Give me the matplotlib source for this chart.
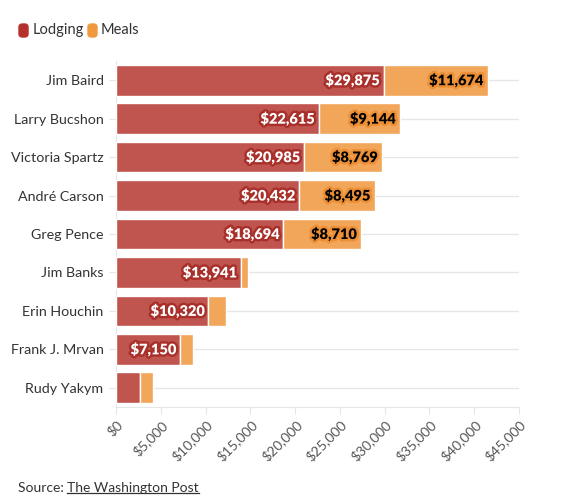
import matplotlib
matplotlib.use('Agg')
import matplotlib.pyplot as plt
import matplotlib.patheffects as pe
from matplotlib.patches import FancyBboxPatch
from matplotlib.ticker import FuncFormatter, MultipleLocator

plt.rcParams['font.family'] = ['Lato', 'DejaVu Sans']

names = ['Jim Baird', 'Larry Bucshon', 'Victoria Spartz', 'André Carson', 'Greg Pence',
         'Jim Banks', 'Erin Houchin', 'Frank J. Mrvan', 'Rudy Yakym']
lodging = [29875, 22615, 20985, 20432, 18694, 13941, 10320, 7150, 2640]
meals = [11674, 9144, 8769, 8495, 8710, 850, 1960, 1480, 1470]
show_lodging = [True, True, True, True, True, True, True, True, False]
show_meals = [True, True, True, True, True, False, False, False, False]

red = '#c0544e'
orange = '#f2a65a'
red_key = '#b7312c'
orange_key = '#f0993e'

fig = plt.figure(figsize=(5.61, 5.00), dpi=100)
ax = fig.add_axes([0.2068, 0.186, 0.7184, 0.692])

y = list(range(len(names)))
ax.barh(y, lodging, height=0.8, color=red, edgecolor='white', linewidth=1, zorder=3)
ax.barh(y, meals, left=lodging, height=0.8, color=orange, edgecolor='white', linewidth=1, zorder=3)

for i in y:
    if show_lodging[i]:
        ax.text(lodging[i] - 400, i, '${:,}'.format(lodging[i]), ha='right', va='center',
                fontsize=10.5, fontweight='heavy', color='white', zorder=5,
                path_effects=[pe.withStroke(linewidth=3.5, foreground='#a9302a')])
    if show_meals[i]:
        ax.text(lodging[i] + meals[i] - 500, i, '${:,}'.format(meals[i]), ha='right', va='center',
                fontsize=10.5, fontweight='heavy', color='black', zorder=5,
                path_effects=[pe.withStroke(linewidth=3.5, foreground='#ec8f35')])

ax.set_xlim(0, 45000)
ax.set_ylim(len(names) - 0.5, -0.5)
ax.set_yticks(y)
ax.set_yticklabels(names, fontsize=10.3, color='#333333')
ax.xaxis.set_major_locator(MultipleLocator(5000))
ax.xaxis.set_major_formatter(FuncFormatter(lambda v, p: '${:,.0f}'.format(v)))
for lab in ax.get_xticklabels():
    lab.set_rotation(45)
    lab.set_ha('right')
    lab.set_rotation_mode('anchor')
    lab.set_fontsize(10)
    lab.set_color('#555555')

ax.grid(axis='y', color='#e6e6e6', linewidth=1, zorder=0)
ax.grid(axis='x', visible=False)
for s in ['top', 'right']:
    ax.spines[s].set_visible(False)
ax.spines['left'].set_color('#e6e6e6')
ax.spines['bottom'].set_color('#e6e6e6')
ax.tick_params(axis='y', length=5, color='#e6e6e6', pad=4)
ax.tick_params(axis='x', length=5, color='#e6e6e6', pad=3)

# legend
fig.patches.append(FancyBboxPatch((19 / 561, 1 - 37 / 500), 9 / 561, 13 / 500,
                                  boxstyle='round,pad=0,rounding_size=0.006',
                                  transform=fig.transFigure, color=red_key))
fig.text(33 / 561, 1 - 30 / 500, 'Lodging', fontsize=10.5, color='#333333', va='center')
fig.patches.append(FancyBboxPatch((88 / 561, 1 - 37 / 500), 9 / 561, 13 / 500,
                                  boxstyle='round,pad=0,rounding_size=0.006',
                                  transform=fig.transFigure, color=orange_key))
fig.text(101 / 561, 1 - 30 / 500, 'Meals', fontsize=10.5, color='#333333', va='center')

# source line
t1 = fig.text(18 / 561, 1 - 488 / 500, 'Source: ', fontsize=10, color='#333333', va='center')
fig.canvas.draw()
r = fig.canvas.get_renderer()
bb = t1.get_window_extent(r).transformed(fig.transFigure.inverted())
t2 = fig.text(bb.x1, 1 - 488 / 500, 'The Washington Post', fontsize=10, color='#333333', va='center')
bb2 = t2.get_window_extent(r).transformed(fig.transFigure.inverted())
fig.add_artist(plt.Line2D([bb2.x0, bb2.x1], [bb2.y0 + 0.002, bb2.y0 + 0.002],
                          transform=fig.transFigure, color='#333333', linewidth=0.9))

fig.savefig('out.png', dpi=100)
